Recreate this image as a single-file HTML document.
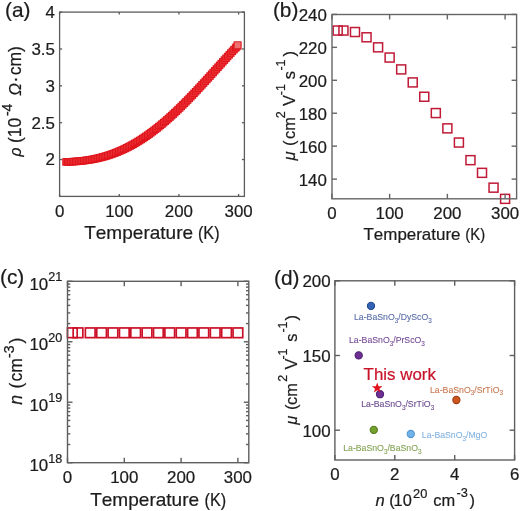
<!DOCTYPE html>
<html><head><meta charset="utf-8"><style>
html,body{margin:0;padding:0;background:#fff;}
body{width:520px;height:511px;overflow:hidden;}
svg{display:block;}
text{font-family:'Liberation Sans', Arial, Helvetica, sans-serif;font-kerning:none;}
</style></head><body>
<svg width="520" height="511" viewBox="0 0 520 511">
<rect width="520" height="511" fill="#fff"/>
<g fill="#ee4040" stroke="#e0141c" stroke-width="1.1">
<rect x="62.80" y="158.71" width="6.4" height="6.4"/>
<rect x="64.40" y="158.67" width="6.4" height="6.4"/>
<rect x="66.00" y="158.61" width="6.4" height="6.4"/>
<rect x="67.60" y="158.54" width="6.4" height="6.4"/>
<rect x="69.20" y="158.46" width="6.4" height="6.4"/>
<rect x="70.80" y="158.37" width="6.4" height="6.4"/>
<rect x="72.40" y="158.26" width="6.4" height="6.4"/>
<rect x="74.00" y="158.14" width="6.4" height="6.4"/>
<rect x="75.60" y="158.00" width="6.4" height="6.4"/>
<rect x="77.20" y="157.84" width="6.4" height="6.4"/>
<rect x="78.80" y="157.67" width="6.4" height="6.4"/>
<rect x="80.40" y="157.49" width="6.4" height="6.4"/>
<rect x="82.00" y="157.28" width="6.4" height="6.4"/>
<rect x="83.60" y="157.06" width="6.4" height="6.4"/>
<rect x="85.20" y="156.82" width="6.4" height="6.4"/>
<rect x="86.80" y="156.56" width="6.4" height="6.4"/>
<rect x="88.40" y="156.28" width="6.4" height="6.4"/>
<rect x="90.00" y="155.99" width="6.4" height="6.4"/>
<rect x="91.60" y="155.67" width="6.4" height="6.4"/>
<rect x="93.20" y="155.33" width="6.4" height="6.4"/>
<rect x="94.80" y="154.97" width="6.4" height="6.4"/>
<rect x="96.40" y="154.59" width="6.4" height="6.4"/>
<rect x="98.00" y="154.18" width="6.4" height="6.4"/>
<rect x="99.60" y="153.76" width="6.4" height="6.4"/>
<rect x="101.20" y="153.31" width="6.4" height="6.4"/>
<rect x="102.80" y="152.84" width="6.4" height="6.4"/>
<rect x="104.40" y="152.34" width="6.4" height="6.4"/>
<rect x="106.00" y="151.82" width="6.4" height="6.4"/>
<rect x="107.60" y="151.28" width="6.4" height="6.4"/>
<rect x="109.20" y="150.72" width="6.4" height="6.4"/>
<rect x="110.80" y="150.13" width="6.4" height="6.4"/>
<rect x="112.40" y="149.51" width="6.4" height="6.4"/>
<rect x="114.00" y="148.87" width="6.4" height="6.4"/>
<rect x="115.60" y="148.21" width="6.4" height="6.4"/>
<rect x="117.20" y="147.52" width="6.4" height="6.4"/>
<rect x="118.80" y="146.81" width="6.4" height="6.4"/>
<rect x="120.40" y="146.07" width="6.4" height="6.4"/>
<rect x="122.00" y="145.31" width="6.4" height="6.4"/>
<rect x="123.60" y="144.52" width="6.4" height="6.4"/>
<rect x="125.20" y="143.70" width="6.4" height="6.4"/>
<rect x="126.80" y="142.87" width="6.4" height="6.4"/>
<rect x="128.40" y="142.00" width="6.4" height="6.4"/>
<rect x="130.00" y="141.11" width="6.4" height="6.4"/>
<rect x="131.60" y="140.19" width="6.4" height="6.4"/>
<rect x="133.20" y="139.25" width="6.4" height="6.4"/>
<rect x="134.80" y="138.29" width="6.4" height="6.4"/>
<rect x="136.40" y="137.30" width="6.4" height="6.4"/>
<rect x="138.00" y="136.28" width="6.4" height="6.4"/>
<rect x="139.60" y="135.24" width="6.4" height="6.4"/>
<rect x="141.20" y="134.17" width="6.4" height="6.4"/>
<rect x="142.80" y="133.08" width="6.4" height="6.4"/>
<rect x="144.40" y="131.96" width="6.4" height="6.4"/>
<rect x="146.00" y="130.82" width="6.4" height="6.4"/>
<rect x="147.60" y="129.65" width="6.4" height="6.4"/>
<rect x="149.20" y="128.47" width="6.4" height="6.4"/>
<rect x="150.80" y="127.25" width="6.4" height="6.4"/>
<rect x="152.40" y="126.02" width="6.4" height="6.4"/>
<rect x="154.00" y="124.76" width="6.4" height="6.4"/>
<rect x="155.60" y="123.47" width="6.4" height="6.4"/>
<rect x="157.20" y="122.17" width="6.4" height="6.4"/>
<rect x="158.80" y="120.84" width="6.4" height="6.4"/>
<rect x="160.40" y="119.49" width="6.4" height="6.4"/>
<rect x="162.00" y="118.11" width="6.4" height="6.4"/>
<rect x="163.60" y="116.72" width="6.4" height="6.4"/>
<rect x="165.20" y="115.31" width="6.4" height="6.4"/>
<rect x="166.80" y="113.87" width="6.4" height="6.4"/>
<rect x="168.40" y="112.41" width="6.4" height="6.4"/>
<rect x="170.00" y="110.94" width="6.4" height="6.4"/>
<rect x="171.60" y="109.44" width="6.4" height="6.4"/>
<rect x="173.20" y="107.93" width="6.4" height="6.4"/>
<rect x="174.80" y="106.40" width="6.4" height="6.4"/>
<rect x="176.40" y="104.85" width="6.4" height="6.4"/>
<rect x="178.00" y="103.28" width="6.4" height="6.4"/>
<rect x="179.60" y="101.70" width="6.4" height="6.4"/>
<rect x="181.20" y="100.10" width="6.4" height="6.4"/>
<rect x="182.80" y="98.48" width="6.4" height="6.4"/>
<rect x="184.40" y="96.85" width="6.4" height="6.4"/>
<rect x="186.00" y="95.21" width="6.4" height="6.4"/>
<rect x="187.60" y="93.55" width="6.4" height="6.4"/>
<rect x="189.20" y="91.88" width="6.4" height="6.4"/>
<rect x="190.80" y="90.19" width="6.4" height="6.4"/>
<rect x="192.40" y="88.50" width="6.4" height="6.4"/>
<rect x="194.00" y="86.79" width="6.4" height="6.4"/>
<rect x="195.60" y="85.08" width="6.4" height="6.4"/>
<rect x="197.20" y="83.35" width="6.4" height="6.4"/>
<rect x="198.80" y="81.62" width="6.4" height="6.4"/>
<rect x="200.40" y="79.87" width="6.4" height="6.4"/>
<rect x="202.00" y="78.12" width="6.4" height="6.4"/>
<rect x="203.60" y="76.37" width="6.4" height="6.4"/>
<rect x="205.20" y="74.61" width="6.4" height="6.4"/>
<rect x="206.80" y="72.84" width="6.4" height="6.4"/>
<rect x="208.40" y="71.07" width="6.4" height="6.4"/>
<rect x="210.00" y="69.30" width="6.4" height="6.4"/>
<rect x="211.60" y="67.52" width="6.4" height="6.4"/>
<rect x="213.20" y="65.75" width="6.4" height="6.4"/>
<rect x="214.80" y="63.97" width="6.4" height="6.4"/>
<rect x="216.40" y="62.20" width="6.4" height="6.4"/>
<rect x="218.00" y="60.43" width="6.4" height="6.4"/>
<rect x="219.60" y="58.66" width="6.4" height="6.4"/>
<rect x="221.20" y="56.89" width="6.4" height="6.4"/>
<rect x="222.80" y="55.13" width="6.4" height="6.4"/>
<rect x="224.40" y="53.37" width="6.4" height="6.4"/>
<rect x="226.00" y="51.63" width="6.4" height="6.4"/>
<rect x="227.60" y="49.89" width="6.4" height="6.4"/>
<rect x="229.20" y="48.16" width="6.4" height="6.4"/>
<rect x="230.80" y="46.44" width="6.4" height="6.4"/>
<rect x="232.40" y="44.73" width="6.4" height="6.4"/>
<rect x="233.40" y="43.67" width="6.4" height="6.4"/>
<rect x="234.40" y="42.61" width="6.4" height="6.4"/>
</g>
<rect x="234.20" y="41.80" width="6.8" height="6.8" fill="#f07070" stroke="#dc2a30" stroke-width="1.1"/>
<rect x="59.6" y="12.1" width="184.80" height="184.30" fill="none" stroke="#5c5c5c" stroke-width="1.3"/>
<line x1="59.60" y1="196.40" x2="59.60" y2="193.90" stroke="#5c5c5c" stroke-width="1.3"/>
<line x1="59.60" y1="12.10" x2="59.60" y2="14.60" stroke="#5c5c5c" stroke-width="1.3"/>
<text x="59.60" y="216.80" font-size="16.9" text-anchor="middle" fill="#1c1c1c"  stroke="#1c1c1c" stroke-width="0.22">0</text>
<line x1="119.27" y1="196.40" x2="119.27" y2="193.90" stroke="#5c5c5c" stroke-width="1.3"/>
<line x1="119.27" y1="12.10" x2="119.27" y2="14.60" stroke="#5c5c5c" stroke-width="1.3"/>
<text x="119.27" y="216.80" font-size="16.9" text-anchor="middle" fill="#1c1c1c"  stroke="#1c1c1c" stroke-width="0.22">100</text>
<line x1="178.93" y1="196.40" x2="178.93" y2="193.90" stroke="#5c5c5c" stroke-width="1.3"/>
<line x1="178.93" y1="12.10" x2="178.93" y2="14.60" stroke="#5c5c5c" stroke-width="1.3"/>
<text x="178.93" y="216.80" font-size="16.9" text-anchor="middle" fill="#1c1c1c"  stroke="#1c1c1c" stroke-width="0.22">200</text>
<line x1="238.60" y1="196.40" x2="238.60" y2="193.90" stroke="#5c5c5c" stroke-width="1.3"/>
<line x1="238.60" y1="12.10" x2="238.60" y2="14.60" stroke="#5c5c5c" stroke-width="1.3"/>
<text x="238.60" y="216.80" font-size="16.9" text-anchor="middle" fill="#1c1c1c"  stroke="#1c1c1c" stroke-width="0.22">300</text>
<line x1="59.60" y1="159.54" x2="62.10" y2="159.54" stroke="#5c5c5c" stroke-width="1.3"/>
<line x1="244.40" y1="159.54" x2="241.90" y2="159.54" stroke="#5c5c5c" stroke-width="1.3"/>
<text x="54.90" y="165.44" font-size="16.9" text-anchor="end" fill="#1c1c1c"  stroke="#1c1c1c" stroke-width="0.22">2</text>
<line x1="59.60" y1="122.68" x2="62.10" y2="122.68" stroke="#5c5c5c" stroke-width="1.3"/>
<line x1="244.40" y1="122.68" x2="241.90" y2="122.68" stroke="#5c5c5c" stroke-width="1.3"/>
<text x="54.90" y="128.58" font-size="16.9" text-anchor="end" fill="#1c1c1c"  stroke="#1c1c1c" stroke-width="0.22">2.5</text>
<line x1="59.60" y1="85.82" x2="62.10" y2="85.82" stroke="#5c5c5c" stroke-width="1.3"/>
<line x1="244.40" y1="85.82" x2="241.90" y2="85.82" stroke="#5c5c5c" stroke-width="1.3"/>
<text x="54.90" y="91.72" font-size="16.9" text-anchor="end" fill="#1c1c1c"  stroke="#1c1c1c" stroke-width="0.22">3</text>
<line x1="59.60" y1="48.96" x2="62.10" y2="48.96" stroke="#5c5c5c" stroke-width="1.3"/>
<line x1="244.40" y1="48.96" x2="241.90" y2="48.96" stroke="#5c5c5c" stroke-width="1.3"/>
<text x="54.90" y="54.86" font-size="16.9" text-anchor="end" fill="#1c1c1c"  stroke="#1c1c1c" stroke-width="0.22">3.5</text>
<line x1="59.60" y1="12.10" x2="62.10" y2="12.10" stroke="#5c5c5c" stroke-width="1.3"/>
<line x1="244.40" y1="12.10" x2="241.90" y2="12.10" stroke="#5c5c5c" stroke-width="1.3"/>
<text x="54.90" y="18.00" font-size="16.9" text-anchor="end" fill="#1c1c1c"  stroke="#1c1c1c" stroke-width="0.22">4</text>
<text x="84.17" y="239.3" font-size="19.05" fill="#1c1c1c" stroke="#1c1c1c" stroke-width="0.22">Temperature</text>
<text x="198.00" y="239.3" font-size="17.8" fill="#1c1c1c" textLength="21.50" lengthAdjust="spacingAndGlyphs" stroke="#1c1c1c" stroke-width="0.22">(K)</text>
<text x="5.00" y="16.50" font-size="20.8" text-anchor="start" fill="#1c1c1c"  stroke="#1c1c1c" stroke-width="0.22">(a)</text>
<g transform="rotate(-90)">
<text x="-156.42" y="21.30" font-size="15.6" fill="#1c1c1c" font-style="italic" stroke="#1c1c1c" stroke-width="0.22">ρ</text>
<text x="-142.89" y="21.30" font-size="17.6" fill="#1c1c1c" stroke="#1c1c1c" stroke-width="0.22">(</text>
<text x="-137.24" y="21.30" font-size="17.6" fill="#1c1c1c" stroke="#1c1c1c" stroke-width="0.22">10</text>
<text x="-116.12" y="11.60" font-size="14.0" fill="#1c1c1c" stroke="#1c1c1c" stroke-width="0.22">-4</text>
<text x="-95.85" y="21.30" font-size="16.6" fill="#1c1c1c" font-style="italic" stroke="#1c1c1c" stroke-width="0.22">Ω</text>
<text x="-82.59" y="21.30" font-size="17.6" fill="#1c1c1c" stroke="#1c1c1c" stroke-width="0.22">·</text>
<text x="-75.35" y="21.30" font-size="17.6" fill="#1c1c1c" stroke="#1c1c1c" stroke-width="0.22">cm</text>
<text x="-52.10" y="21.30" font-size="17.6" fill="#1c1c1c" stroke="#1c1c1c" stroke-width="0.22">)</text>
</g>
<g fill="none" stroke="#c01a36" stroke-width="1.5">
<rect x="333.17" y="26.04" width="9.0" height="9.0"/>
<rect x="338.95" y="26.04" width="9.0" height="9.0"/>
<rect x="350.49" y="27.52" width="9.0" height="9.0"/>
<rect x="362.04" y="32.79" width="9.0" height="9.0"/>
<rect x="373.59" y="42.84" width="9.0" height="9.0"/>
<rect x="385.13" y="53.05" width="9.0" height="9.0"/>
<rect x="396.68" y="64.91" width="9.0" height="9.0"/>
<rect x="408.23" y="77.92" width="9.0" height="9.0"/>
<rect x="419.77" y="92.25" width="9.0" height="9.0"/>
<rect x="431.32" y="108.56" width="9.0" height="9.0"/>
<rect x="442.87" y="123.87" width="9.0" height="9.0"/>
<rect x="454.41" y="138.04" width="9.0" height="9.0"/>
<rect x="465.96" y="155.66" width="9.0" height="9.0"/>
<rect x="477.51" y="168.34" width="9.0" height="9.0"/>
<rect x="489.05" y="183.16" width="9.0" height="9.0"/>
<rect x="500.60" y="194.36" width="9.0" height="9.0"/>
</g>
<rect x="332.0" y="14.5" width="184.60" height="184.30" fill="none" stroke="#666666" stroke-width="1.4"/>
<line x1="331.90" y1="198.80" x2="331.90" y2="193.80" stroke="#666666" stroke-width="1.4"/>
<line x1="331.90" y1="14.50" x2="331.90" y2="19.50" stroke="#666666" stroke-width="1.4"/>
<text x="331.90" y="219.00" font-size="16.9" text-anchor="middle" fill="#1c1c1c"  stroke="#1c1c1c" stroke-width="0.22">0</text>
<line x1="389.63" y1="198.80" x2="389.63" y2="193.80" stroke="#666666" stroke-width="1.4"/>
<line x1="389.63" y1="14.50" x2="389.63" y2="19.50" stroke="#666666" stroke-width="1.4"/>
<text x="389.63" y="219.00" font-size="16.9" text-anchor="middle" fill="#1c1c1c"  stroke="#1c1c1c" stroke-width="0.22">100</text>
<line x1="447.37" y1="198.80" x2="447.37" y2="193.80" stroke="#666666" stroke-width="1.4"/>
<line x1="447.37" y1="14.50" x2="447.37" y2="19.50" stroke="#666666" stroke-width="1.4"/>
<text x="447.37" y="219.00" font-size="16.9" text-anchor="middle" fill="#1c1c1c"  stroke="#1c1c1c" stroke-width="0.22">200</text>
<line x1="505.10" y1="198.80" x2="505.10" y2="193.80" stroke="#666666" stroke-width="1.4"/>
<line x1="505.10" y1="14.50" x2="505.10" y2="19.50" stroke="#666666" stroke-width="1.4"/>
<text x="505.10" y="219.00" font-size="16.9" text-anchor="middle" fill="#1c1c1c"  stroke="#1c1c1c" stroke-width="0.22">300</text>
<line x1="332.00" y1="179.10" x2="337.00" y2="179.10" stroke="#666666" stroke-width="1.4"/>
<line x1="516.60" y1="179.10" x2="511.60" y2="179.10" stroke="#666666" stroke-width="1.4"/>
<text x="326.90" y="186.10" font-size="16.9" text-anchor="end" fill="#1c1c1c"  stroke="#1c1c1c" stroke-width="0.22">140</text>
<line x1="332.00" y1="146.16" x2="337.00" y2="146.16" stroke="#666666" stroke-width="1.4"/>
<line x1="516.60" y1="146.16" x2="511.60" y2="146.16" stroke="#666666" stroke-width="1.4"/>
<text x="326.90" y="153.16" font-size="16.9" text-anchor="end" fill="#1c1c1c"  stroke="#1c1c1c" stroke-width="0.22">160</text>
<line x1="332.00" y1="113.22" x2="337.00" y2="113.22" stroke="#666666" stroke-width="1.4"/>
<line x1="516.60" y1="113.22" x2="511.60" y2="113.22" stroke="#666666" stroke-width="1.4"/>
<text x="326.90" y="120.22" font-size="16.9" text-anchor="end" fill="#1c1c1c"  stroke="#1c1c1c" stroke-width="0.22">180</text>
<line x1="332.00" y1="80.28" x2="337.00" y2="80.28" stroke="#666666" stroke-width="1.4"/>
<line x1="516.60" y1="80.28" x2="511.60" y2="80.28" stroke="#666666" stroke-width="1.4"/>
<text x="326.90" y="87.28" font-size="16.9" text-anchor="end" fill="#1c1c1c"  stroke="#1c1c1c" stroke-width="0.22">200</text>
<line x1="332.00" y1="47.34" x2="337.00" y2="47.34" stroke="#666666" stroke-width="1.4"/>
<line x1="516.60" y1="47.34" x2="511.60" y2="47.34" stroke="#666666" stroke-width="1.4"/>
<text x="326.90" y="54.34" font-size="16.9" text-anchor="end" fill="#1c1c1c"  stroke="#1c1c1c" stroke-width="0.22">220</text>
<line x1="332.00" y1="14.40" x2="337.00" y2="14.40" stroke="#666666" stroke-width="1.4"/>
<line x1="516.60" y1="14.40" x2="511.60" y2="14.40" stroke="#666666" stroke-width="1.4"/>
<text x="326.90" y="21.40" font-size="16.9" text-anchor="end" fill="#1c1c1c"  stroke="#1c1c1c" stroke-width="0.22">240</text>
<text x="363.52" y="239.8" font-size="16.95" fill="#1c1c1c" stroke="#1c1c1c" stroke-width="0.22">Temperature</text>
<text x="465.28" y="239.8" font-size="16.2" fill="#1c1c1c" textLength="19.85" lengthAdjust="spacingAndGlyphs" stroke="#1c1c1c" stroke-width="0.22">(K)</text>
<text x="272.90" y="16.60" font-size="20.8" text-anchor="start" fill="#1c1c1c"  stroke="#1c1c1c" stroke-width="0.22">(b)</text>
<g transform="rotate(-90)">
<text x="-160.45" y="294.60" font-size="16.6" fill="#1c1c1c" font-style="italic" stroke="#1c1c1c" stroke-width="0.22">μ</text>
<text x="-146.02" y="294.60" font-size="16.4" fill="#1c1c1c" stroke="#1c1c1c" stroke-width="0.22">(</text>
<text x="-139.00" y="294.60" font-size="16.4" fill="#1c1c1c" stroke="#1c1c1c" stroke-width="0.22">cm</text>
<text x="-118.13" y="285.40" font-size="12.5" fill="#1c1c1c" stroke="#1c1c1c" stroke-width="0.22">2</text>
<text x="-105.97" y="294.60" font-size="16.4" fill="#1c1c1c" stroke="#1c1c1c" stroke-width="0.22">V</text>
<text x="-95.26" y="285.20" font-size="12.5" fill="#1c1c1c" stroke="#1c1c1c" stroke-width="0.22">-1</text>
<text x="-79.26" y="294.60" font-size="16.4" fill="#1c1c1c" stroke="#1c1c1c" stroke-width="0.22">s</text>
<text x="-70.56" y="285.20" font-size="12.5" fill="#1c1c1c" stroke="#1c1c1c" stroke-width="0.22">-1</text>
<text x="-56.60" y="294.60" font-size="16.4" fill="#1c1c1c" stroke="#1c1c1c" stroke-width="0.22">)</text>
</g>
<g fill="none" stroke="#cc1028" stroke-width="1.7">
<rect x="67.48" y="327.95" width="9.7" height="9.7"/>
<rect x="73.16" y="327.95" width="9.7" height="9.7"/>
<rect x="85.37" y="327.95" width="9.7" height="9.7"/>
<rect x="96.73" y="327.95" width="9.7" height="9.7"/>
<rect x="108.09" y="327.95" width="9.7" height="9.7"/>
<rect x="119.45" y="327.95" width="9.7" height="9.7"/>
<rect x="130.81" y="327.95" width="9.7" height="9.7"/>
<rect x="142.17" y="327.95" width="9.7" height="9.7"/>
<rect x="153.53" y="327.95" width="9.7" height="9.7"/>
<rect x="164.89" y="327.95" width="9.7" height="9.7"/>
<rect x="176.25" y="327.95" width="9.7" height="9.7"/>
<rect x="187.61" y="327.95" width="9.7" height="9.7"/>
<rect x="198.97" y="327.95" width="9.7" height="9.7"/>
<rect x="210.33" y="327.95" width="9.7" height="9.7"/>
<rect x="221.69" y="327.95" width="9.7" height="9.7"/>
<rect x="233.05" y="327.95" width="9.7" height="9.7"/>
</g>
<rect x="67.5" y="281.3" width="181.30" height="181.40" fill="none" stroke="#5e5e5e" stroke-width="1.4"/>
<line x1="67.50" y1="462.70" x2="67.50" y2="457.70" stroke="#5e5e5e" stroke-width="1.4"/>
<line x1="67.50" y1="281.30" x2="67.50" y2="286.30" stroke="#5e5e5e" stroke-width="1.4"/>
<text x="67.50" y="483.40" font-size="16.9" text-anchor="middle" fill="#1c1c1c"  stroke="#1c1c1c" stroke-width="0.22">0</text>
<line x1="124.30" y1="462.70" x2="124.30" y2="457.70" stroke="#5e5e5e" stroke-width="1.4"/>
<line x1="124.30" y1="281.30" x2="124.30" y2="286.30" stroke="#5e5e5e" stroke-width="1.4"/>
<text x="124.30" y="483.40" font-size="16.9" text-anchor="middle" fill="#1c1c1c"  stroke="#1c1c1c" stroke-width="0.22">100</text>
<line x1="181.10" y1="462.70" x2="181.10" y2="457.70" stroke="#5e5e5e" stroke-width="1.4"/>
<line x1="181.10" y1="281.30" x2="181.10" y2="286.30" stroke="#5e5e5e" stroke-width="1.4"/>
<text x="181.10" y="483.40" font-size="16.9" text-anchor="middle" fill="#1c1c1c"  stroke="#1c1c1c" stroke-width="0.22">200</text>
<line x1="237.90" y1="462.70" x2="237.90" y2="457.70" stroke="#5e5e5e" stroke-width="1.4"/>
<line x1="237.90" y1="281.30" x2="237.90" y2="286.30" stroke="#5e5e5e" stroke-width="1.4"/>
<text x="237.90" y="483.40" font-size="16.9" text-anchor="middle" fill="#1c1c1c"  stroke="#1c1c1c" stroke-width="0.22">300</text>
<line x1="67.50" y1="462.70" x2="72.50" y2="462.70" stroke="#5e5e5e" stroke-width="1.4"/>
<line x1="248.80" y1="462.70" x2="243.80" y2="462.70" stroke="#5e5e5e" stroke-width="1.4"/>
<text x="29.40" y="471.30" font-size="16.9" fill="#1c1c1c" stroke="#1c1c1c" stroke-width="0.22">10<tspan font-size="12.6" dy="-8.6">18</tspan></text>
<line x1="67.50" y1="444.50" x2="70.30" y2="444.50" stroke="#5e5e5e" stroke-width="1.4"/>
<line x1="248.80" y1="444.50" x2="246.00" y2="444.50" stroke="#5e5e5e" stroke-width="1.4"/>
<line x1="67.50" y1="433.85" x2="70.30" y2="433.85" stroke="#5e5e5e" stroke-width="1.4"/>
<line x1="248.80" y1="433.85" x2="246.00" y2="433.85" stroke="#5e5e5e" stroke-width="1.4"/>
<line x1="67.50" y1="426.30" x2="70.30" y2="426.30" stroke="#5e5e5e" stroke-width="1.4"/>
<line x1="248.80" y1="426.30" x2="246.00" y2="426.30" stroke="#5e5e5e" stroke-width="1.4"/>
<line x1="67.50" y1="420.44" x2="70.30" y2="420.44" stroke="#5e5e5e" stroke-width="1.4"/>
<line x1="248.80" y1="420.44" x2="246.00" y2="420.44" stroke="#5e5e5e" stroke-width="1.4"/>
<line x1="67.50" y1="415.65" x2="70.30" y2="415.65" stroke="#5e5e5e" stroke-width="1.4"/>
<line x1="248.80" y1="415.65" x2="246.00" y2="415.65" stroke="#5e5e5e" stroke-width="1.4"/>
<line x1="67.50" y1="411.60" x2="70.30" y2="411.60" stroke="#5e5e5e" stroke-width="1.4"/>
<line x1="248.80" y1="411.60" x2="246.00" y2="411.60" stroke="#5e5e5e" stroke-width="1.4"/>
<line x1="67.50" y1="408.09" x2="70.30" y2="408.09" stroke="#5e5e5e" stroke-width="1.4"/>
<line x1="248.80" y1="408.09" x2="246.00" y2="408.09" stroke="#5e5e5e" stroke-width="1.4"/>
<line x1="67.50" y1="405.00" x2="70.30" y2="405.00" stroke="#5e5e5e" stroke-width="1.4"/>
<line x1="248.80" y1="405.00" x2="246.00" y2="405.00" stroke="#5e5e5e" stroke-width="1.4"/>
<line x1="67.50" y1="402.23" x2="72.50" y2="402.23" stroke="#5e5e5e" stroke-width="1.4"/>
<line x1="248.80" y1="402.23" x2="243.80" y2="402.23" stroke="#5e5e5e" stroke-width="1.4"/>
<text x="29.40" y="410.83" font-size="16.9" fill="#1c1c1c" stroke="#1c1c1c" stroke-width="0.22">10<tspan font-size="12.6" dy="-8.6">19</tspan></text>
<line x1="67.50" y1="384.03" x2="70.30" y2="384.03" stroke="#5e5e5e" stroke-width="1.4"/>
<line x1="248.80" y1="384.03" x2="246.00" y2="384.03" stroke="#5e5e5e" stroke-width="1.4"/>
<line x1="67.50" y1="373.38" x2="70.30" y2="373.38" stroke="#5e5e5e" stroke-width="1.4"/>
<line x1="248.80" y1="373.38" x2="246.00" y2="373.38" stroke="#5e5e5e" stroke-width="1.4"/>
<line x1="67.50" y1="365.83" x2="70.30" y2="365.83" stroke="#5e5e5e" stroke-width="1.4"/>
<line x1="248.80" y1="365.83" x2="246.00" y2="365.83" stroke="#5e5e5e" stroke-width="1.4"/>
<line x1="67.50" y1="359.97" x2="70.30" y2="359.97" stroke="#5e5e5e" stroke-width="1.4"/>
<line x1="248.80" y1="359.97" x2="246.00" y2="359.97" stroke="#5e5e5e" stroke-width="1.4"/>
<line x1="67.50" y1="355.18" x2="70.30" y2="355.18" stroke="#5e5e5e" stroke-width="1.4"/>
<line x1="248.80" y1="355.18" x2="246.00" y2="355.18" stroke="#5e5e5e" stroke-width="1.4"/>
<line x1="67.50" y1="351.13" x2="70.30" y2="351.13" stroke="#5e5e5e" stroke-width="1.4"/>
<line x1="248.80" y1="351.13" x2="246.00" y2="351.13" stroke="#5e5e5e" stroke-width="1.4"/>
<line x1="67.50" y1="347.63" x2="70.30" y2="347.63" stroke="#5e5e5e" stroke-width="1.4"/>
<line x1="248.80" y1="347.63" x2="246.00" y2="347.63" stroke="#5e5e5e" stroke-width="1.4"/>
<line x1="67.50" y1="344.53" x2="70.30" y2="344.53" stroke="#5e5e5e" stroke-width="1.4"/>
<line x1="248.80" y1="344.53" x2="246.00" y2="344.53" stroke="#5e5e5e" stroke-width="1.4"/>
<line x1="67.50" y1="341.77" x2="72.50" y2="341.77" stroke="#5e5e5e" stroke-width="1.4"/>
<line x1="248.80" y1="341.77" x2="243.80" y2="341.77" stroke="#5e5e5e" stroke-width="1.4"/>
<text x="29.40" y="350.37" font-size="16.9" fill="#1c1c1c" stroke="#1c1c1c" stroke-width="0.22">10<tspan font-size="12.6" dy="-8.6">20</tspan></text>
<line x1="67.50" y1="323.56" x2="70.30" y2="323.56" stroke="#5e5e5e" stroke-width="1.4"/>
<line x1="248.80" y1="323.56" x2="246.00" y2="323.56" stroke="#5e5e5e" stroke-width="1.4"/>
<line x1="67.50" y1="312.92" x2="70.30" y2="312.92" stroke="#5e5e5e" stroke-width="1.4"/>
<line x1="248.80" y1="312.92" x2="246.00" y2="312.92" stroke="#5e5e5e" stroke-width="1.4"/>
<line x1="67.50" y1="305.36" x2="70.30" y2="305.36" stroke="#5e5e5e" stroke-width="1.4"/>
<line x1="248.80" y1="305.36" x2="246.00" y2="305.36" stroke="#5e5e5e" stroke-width="1.4"/>
<line x1="67.50" y1="299.50" x2="70.30" y2="299.50" stroke="#5e5e5e" stroke-width="1.4"/>
<line x1="248.80" y1="299.50" x2="246.00" y2="299.50" stroke="#5e5e5e" stroke-width="1.4"/>
<line x1="67.50" y1="294.71" x2="70.30" y2="294.71" stroke="#5e5e5e" stroke-width="1.4"/>
<line x1="248.80" y1="294.71" x2="246.00" y2="294.71" stroke="#5e5e5e" stroke-width="1.4"/>
<line x1="67.50" y1="290.67" x2="70.30" y2="290.67" stroke="#5e5e5e" stroke-width="1.4"/>
<line x1="248.80" y1="290.67" x2="246.00" y2="290.67" stroke="#5e5e5e" stroke-width="1.4"/>
<line x1="67.50" y1="287.16" x2="70.30" y2="287.16" stroke="#5e5e5e" stroke-width="1.4"/>
<line x1="248.80" y1="287.16" x2="246.00" y2="287.16" stroke="#5e5e5e" stroke-width="1.4"/>
<line x1="67.50" y1="284.07" x2="70.30" y2="284.07" stroke="#5e5e5e" stroke-width="1.4"/>
<line x1="248.80" y1="284.07" x2="246.00" y2="284.07" stroke="#5e5e5e" stroke-width="1.4"/>
<line x1="67.50" y1="281.30" x2="72.50" y2="281.30" stroke="#5e5e5e" stroke-width="1.4"/>
<line x1="248.80" y1="281.30" x2="243.80" y2="281.30" stroke="#5e5e5e" stroke-width="1.4"/>
<text x="29.40" y="289.90" font-size="16.9" fill="#1c1c1c" stroke="#1c1c1c" stroke-width="0.22">10<tspan font-size="12.6" dy="-8.6">21</tspan></text>
<text x="90.17" y="505.7" font-size="19.05" fill="#1c1c1c" stroke="#1c1c1c" stroke-width="0.22">Temperature</text>
<text x="204.49" y="505.7" font-size="17.8" fill="#1c1c1c" textLength="21.61" lengthAdjust="spacingAndGlyphs" stroke="#1c1c1c" stroke-width="0.22">(K)</text>
<text x="0.00" y="284.30" font-size="20.8" text-anchor="start" fill="#1c1c1c"  stroke="#1c1c1c" stroke-width="0.22">(c)</text>
<g transform="rotate(-90)">
<text x="-404.79" y="22.40" font-size="17.6" fill="#1c1c1c" font-style="italic" stroke="#1c1c1c" stroke-width="0.22">n</text>
<text x="-388.39" y="22.40" font-size="17.6" fill="#1c1c1c" stroke="#1c1c1c" stroke-width="0.22">(</text>
<text x="-381.55" y="22.40" font-size="17.6" fill="#1c1c1c" stroke="#1c1c1c" stroke-width="0.22">cm</text>
<text x="-358.02" y="13.90" font-size="14.0" fill="#1c1c1c" stroke="#1c1c1c" stroke-width="0.22">-3</text>
<text x="-343.60" y="22.40" font-size="17.6" fill="#1c1c1c" stroke="#1c1c1c" stroke-width="0.22">)</text>
</g>
<rect x="334.9" y="280.8" width="179.70" height="179.20" fill="none" stroke="#5e5e5e" stroke-width="1.4"/>
<line x1="334.90" y1="460.00" x2="334.90" y2="455.00" stroke="#5e5e5e" stroke-width="1.4"/>
<line x1="334.90" y1="280.80" x2="334.90" y2="285.80" stroke="#5e5e5e" stroke-width="1.4"/>
<text x="334.90" y="480.30" font-size="16.9" text-anchor="middle" fill="#1c1c1c"  stroke="#1c1c1c" stroke-width="0.22">0</text>
<line x1="394.80" y1="460.00" x2="394.80" y2="455.00" stroke="#5e5e5e" stroke-width="1.4"/>
<line x1="394.80" y1="280.80" x2="394.80" y2="285.80" stroke="#5e5e5e" stroke-width="1.4"/>
<text x="394.80" y="480.30" font-size="16.9" text-anchor="middle" fill="#1c1c1c"  stroke="#1c1c1c" stroke-width="0.22">2</text>
<line x1="454.70" y1="460.00" x2="454.70" y2="455.00" stroke="#5e5e5e" stroke-width="1.4"/>
<line x1="454.70" y1="280.80" x2="454.70" y2="285.80" stroke="#5e5e5e" stroke-width="1.4"/>
<text x="454.70" y="480.30" font-size="16.9" text-anchor="middle" fill="#1c1c1c"  stroke="#1c1c1c" stroke-width="0.22">4</text>
<line x1="514.60" y1="460.00" x2="514.60" y2="455.00" stroke="#5e5e5e" stroke-width="1.4"/>
<line x1="514.60" y1="280.80" x2="514.60" y2="285.80" stroke="#5e5e5e" stroke-width="1.4"/>
<text x="514.60" y="480.30" font-size="16.9" text-anchor="middle" fill="#1c1c1c"  stroke="#1c1c1c" stroke-width="0.22">6</text>
<line x1="334.90" y1="430.20" x2="339.90" y2="430.20" stroke="#5e5e5e" stroke-width="1.4"/>
<line x1="514.60" y1="430.20" x2="509.60" y2="430.20" stroke="#5e5e5e" stroke-width="1.4"/>
<text x="330.60" y="436.60" font-size="16.9" text-anchor="end" fill="#1c1c1c"  stroke="#1c1c1c" stroke-width="0.22">100</text>
<line x1="334.90" y1="355.50" x2="339.90" y2="355.50" stroke="#5e5e5e" stroke-width="1.4"/>
<line x1="514.60" y1="355.50" x2="509.60" y2="355.50" stroke="#5e5e5e" stroke-width="1.4"/>
<text x="330.60" y="361.90" font-size="16.9" text-anchor="end" fill="#1c1c1c"  stroke="#1c1c1c" stroke-width="0.22">150</text>
<line x1="334.90" y1="280.80" x2="339.90" y2="280.80" stroke="#5e5e5e" stroke-width="1.4"/>
<line x1="514.60" y1="280.80" x2="509.60" y2="280.80" stroke="#5e5e5e" stroke-width="1.4"/>
<text x="330.60" y="287.20" font-size="16.9" text-anchor="end" fill="#1c1c1c"  stroke="#1c1c1c" stroke-width="0.22">200</text>
<text x="274.00" y="284.60" font-size="20.8" text-anchor="start" fill="#1c1c1c"  stroke="#1c1c1c" stroke-width="0.22">(d)</text>
<g transform="rotate(-90)">
<text x="-424.75" y="296.80" font-size="16.6" fill="#1c1c1c" font-style="italic" stroke="#1c1c1c" stroke-width="0.22">μ</text>
<text x="-410.02" y="296.80" font-size="16.4" fill="#1c1c1c" stroke="#1c1c1c" stroke-width="0.22">(</text>
<text x="-404.90" y="296.80" font-size="16.4" fill="#1c1c1c" stroke="#1c1c1c" stroke-width="0.22">cm</text>
<text x="-381.83" y="287.20" font-size="12.5" fill="#1c1c1c" stroke="#1c1c1c" stroke-width="0.22">2</text>
<text x="-369.47" y="296.80" font-size="16.4" fill="#1c1c1c" stroke="#1c1c1c" stroke-width="0.22">V</text>
<text x="-359.56" y="287.00" font-size="12.5" fill="#1c1c1c" stroke="#1c1c1c" stroke-width="0.22">-1</text>
<text x="-341.76" y="296.80" font-size="16.4" fill="#1c1c1c" stroke="#1c1c1c" stroke-width="0.22">s</text>
<text x="-332.56" y="287.00" font-size="12.5" fill="#1c1c1c" stroke="#1c1c1c" stroke-width="0.22">-1</text>
<text x="-320.40" y="296.80" font-size="16.4" fill="#1c1c1c" stroke="#1c1c1c" stroke-width="0.22">)</text>
</g>
<text x="375.53" y="506.00" font-size="16.5" fill="#1c1c1c" font-style="italic" stroke="#1c1c1c" stroke-width="0.22">n</text>
<text x="389.18" y="506.00" font-size="16.4" fill="#1c1c1c" stroke="#1c1c1c" stroke-width="0.22">(</text>
<text x="393.55" y="506.00" font-size="16.4" fill="#1c1c1c" stroke="#1c1c1c" stroke-width="0.22">10</text>
<text x="413.06" y="497.50" font-size="12.8" fill="#1c1c1c" stroke="#1c1c1c" stroke-width="0.22">20</text>
<text x="433.20" y="506.00" font-size="16.4" fill="#1c1c1c" stroke="#1c1c1c" stroke-width="0.22">cm</text>
<text x="456.53" y="497.30" font-size="12.8" fill="#1c1c1c" stroke="#1c1c1c" stroke-width="0.22">-3</text>
<text x="469.50" y="506.00" font-size="16.4" fill="#1c1c1c" stroke="#1c1c1c" stroke-width="0.22">)</text>
<circle cx="371.0" cy="305.9" r="3.6" fill="#3463b6" stroke="#22498f" stroke-width="1.1"/>
<circle cx="358.7" cy="355.4" r="3.6" fill="#6c3094" stroke="#4e2070" stroke-width="1.1"/>
<circle cx="380.0" cy="394.2" r="3.6" fill="#6c3094" stroke="#4e2070" stroke-width="1.1"/>
<circle cx="456.4" cy="400.0" r="3.6" fill="#d0561f" stroke="#9c3e16" stroke-width="1.1"/>
<circle cx="373.8" cy="429.9" r="3.6" fill="#74a02e" stroke="#557a20" stroke-width="1.1"/>
<circle cx="410.8" cy="434.0" r="3.6" fill="#70b2ea" stroke="#5596d0" stroke-width="1.1"/>
<polygon points="377.20,382.40 378.55,386.14 382.53,386.27 379.39,388.71 380.49,392.53 377.20,390.30 373.91,392.53 375.01,388.71 371.87,386.27 375.85,386.14" fill="#e0101c"/>
<text x="363.60" y="380.00" font-size="16.9" text-anchor="start" fill="#c8142a"  stroke="#c8142a" stroke-width="0.22">This work</text>
<text x="354.0" y="320.2" font-size="9.8" fill="#5b6fa8" textLength="77.82" lengthAdjust="spacingAndGlyphs" stroke="#5b6fa8" stroke-width="0.12">La-BaSnO<tspan font-size="7.2" dy="2.8">3</tspan><tspan dy="-2.8">/DyScO</tspan><tspan font-size="7.2" dy="2.8">3</tspan></text>
<text x="349.0" y="343.0" font-size="9.8" fill="#774c96" textLength="75.89" lengthAdjust="spacingAndGlyphs" stroke="#774c96" stroke-width="0.12">La-BaSnO<tspan font-size="7.2" dy="2.8">3</tspan><tspan dy="-2.8">/PrScO</tspan><tspan font-size="7.2" dy="2.8">3</tspan></text>
<text x="361.2" y="407.2" font-size="9.8" fill="#6c4c90" textLength="72.99" lengthAdjust="spacingAndGlyphs" stroke="#6c4c90" stroke-width="0.12">La-BaSnO<tspan font-size="7.2" dy="2.8">3</tspan><tspan dy="-2.8">/SrTiO</tspan><tspan font-size="7.2" dy="2.8">3</tspan></text>
<text x="430.0" y="392.6" font-size="9.8" fill="#c87a52" textLength="72.99" lengthAdjust="spacingAndGlyphs" stroke="#c87a52" stroke-width="0.12">La-BaSnO<tspan font-size="7.2" dy="2.8">3</tspan><tspan dy="-2.8">/SrTiO</tspan><tspan font-size="7.2" dy="2.8">3</tspan></text>
<text x="343.2" y="451.0" font-size="9.8" fill="#86a456" textLength="78.32" lengthAdjust="spacingAndGlyphs" stroke="#86a456" stroke-width="0.12">La-BaSnO<tspan font-size="7.2" dy="2.8">3</tspan><tspan dy="-2.8">/BaSnO</tspan><tspan font-size="7.2" dy="2.8">3</tspan></text>
<text x="421.8" y="437.9" font-size="9.8" fill="#84b4e0" textLength="65.51" lengthAdjust="spacingAndGlyphs" stroke="#84b4e0" stroke-width="0.12">La-BaSnO<tspan font-size="7.2" dy="2.8">3</tspan><tspan dy="-2.8">/MgO</tspan></text>
</svg>
</body></html>
